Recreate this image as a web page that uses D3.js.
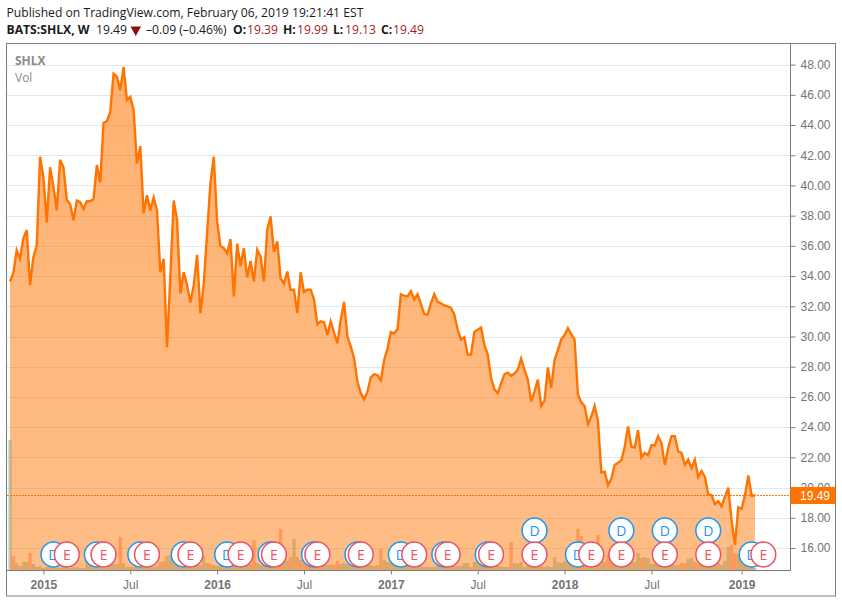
<!DOCTYPE html>
<html>
<head>
<meta charset="utf-8">
<script src="https://cdnjs.cloudflare.com/ajax/libs/d3/7.8.5/d3.min.js"></script>
<style>
  html, body { margin: 0; background: #fff; }
  svg { display: block; }
  .head { font-family: "Open Sans", sans-serif; font-size: 12.17px; fill: #1a1a1a; }
  .axis text { font-family: "Liberation Sans", Arial, sans-serif; fill: #747474; }
</style>
</head>
<body>
<div id="chart"></div>
<script>
// weekly closes, week 0 = 27 Oct 2014
const closes = [
  33.65, 34.2, 35.7, 35.15, 36.5, 37.05, 33.4, 35.25, 36.0, 41.9,
  40.55, 37.55, 41.2, 39.9, 38.35, 41.7, 41.2, 39.05, 38.75, 37.7,
  39.0, 38.9, 38.45, 38.95, 38.95, 39.1, 41.35, 40.2, 44.15, 44.25,
  44.85, 47.4, 47.2, 46.3, 47.85, 45.65, 45.85, 45.0, 41.45, 42.6,
  38.15, 39.35, 38.35, 39.2, 38.35, 34.25, 35.15, 29.3, 34.0, 39.0,
  37.7, 32.85, 34.25, 33.4, 32.25, 33.4, 35.4, 31.55, 33.5, 36.85,
  40.15, 41.9, 37.6, 36.0, 35.85, 35.5, 36.45, 32.65, 36.15, 34.65,
  35.85, 33.9, 35.0, 33.65, 35.75, 35.3, 33.65, 37.05, 37.95, 35.6,
  36.3, 33.85, 33.5, 34.3, 33.1, 33.1, 31.55, 34.25, 32.95, 33.1,
  33.1, 32.45, 30.8, 31.0, 30.95, 30.1, 31.0, 30.25, 29.55, 31.1,
  32.3, 30.0, 29.35, 28.55, 27.0, 26.25, 25.85, 26.35, 27.3, 27.5,
  27.45, 27.1, 28.45, 29.2, 30.3, 30.2, 30.5, 32.8, 32.7, 32.65,
  33.0, 32.45, 32.8, 32.15, 31.5, 31.45, 32.2, 32.8, 32.3, 32.2,
  32.05, 32.0, 31.9, 31.45, 30.45, 29.8, 29.95, 28.8, 28.8, 30.3,
  30.45, 30.6, 29.45, 28.8, 27.25, 26.5, 26.25, 26.9, 27.5, 27.6,
  27.4, 27.55, 27.8, 28.55, 27.8, 27.15, 25.7, 26.35, 27.15, 25.4,
  25.75, 27.95, 26.6, 28.45, 29.1, 29.8, 30.1, 30.55, 30.15, 29.8,
  26.15, 25.65, 25.4, 24.2, 24.7, 25.4, 24.4, 21.0, 21.05, 20.15,
  20.6, 21.5, 21.65, 21.8, 22.7, 24.05, 22.7, 22.65, 23.8, 22.0,
  22.3, 22.15, 22.8, 22.8, 23.4, 22.95, 21.5, 22.6, 23.4, 23.4,
  22.4, 22.3, 21.5, 21.85, 21.3, 21.85, 20.7, 21.1, 20.7, 19.55,
  19.5, 18.9, 19.1, 18.75, 19.4, 20.0, 17.8, 16.2, 18.7, 18.6,
  19.5, 20.8, 19.45, 19.49
];

// relative volume, the first week is the tallest bar
const volumes = [
  130, 14, 7, 4, 8, 8, 17, 6, 3, 4,
  2, 3, 3, 4, 3, 2, 3, 3, 2, 3,
  3, 2, 2, 10, 6, 5, 6, 6, 5, 5,
  5, 6, 6, 33, 7, 3, 3, 3, 4, 3,
  4, 3, 3, 3, 4, 8, 9, 14, 15, 10,
  10, 9, 10, 8, 8, 6, 6, 5, 14, 7,
  6, 5, 4, 5, 6, 5, 6, 8, 8, 6,
  6, 5, 6, 30, 7, 5, 6, 5, 7, 6,
  8, 41, 10, 9, 13, 31, 13, 10, 7, 8,
  6, 6, 5, 6, 5, 5, 5, 5, 9, 6,
  7, 6, 5, 5, 4, 5, 6, 5, 5, 4,
  5, 21, 10, 8, 7, 6, 5, 5, 4, 5,
  4, 4, 3, 4, 3, 3, 3, 3, 4, 4,
  4, 3, 3, 4, 4, 4, 7, 7, 3, 8,
  8, 5, 6, 5, 4, 5, 4, 4, 3, 3,
  28, 7, 7, 8, 3, 4, 4, 4, 3, 4,
  3, 4, 3, 13, 8, 7, 9, 12, 15, 10,
  41, 34, 11, 9, 8, 6, 35, 9, 8, 15,
  8, 7, 10, 11, 10, 10, 9, 8, 17, 12,
  13, 12, 6, 6, 5, 6, 6, 5, 6, 5,
  5, 7, 7, 11, 12, 8, 6, 5, 6, 5,
  5, 6, 7, 5, 9, 23, 25, 17, 16, 10,
  5, 4, 3, 2
];
const volumeDownWeeks = [1, 3, 6, 10, 13, 21, 22, 33, 36, 46, 60, 73, 81, 84, 86, 88, 89, 97, 98, 111, 138, 150, 170, 171, 172, 176, 179, 189, 201, 202, 205, 216, 217];

const priceTicks = [16, 18, 20, 22, 24, 26, 28, 30, 32, 34, 36, 38, 40, 42, 44, 46, 48];
const timeTickWeeks = [10, 36, 62, 88, 114, 140, 166, 192, 219];
const timeTickLabels = ["2015", "Jul", "2016", "Jul", "2017", "Jul", "2018", "Jul", "2019"];

const earningsWeeks = [17, 28, 41, 54, 69, 79, 92, 105, 121, 131, 144, 157, 174, 183, 196, 209, 225.5];
const dividendWeeks = [13, 26, 39, 52, 65, 78, 91, 104, 117, 130, 143, 157, 170, 183, 196, 209, 222];

const lastClose = 19.49;

const orange = "#ff7400";
const axisGrey = "#7b7b7b";
const darkRed = "#a51c1c";

const width = 842, height = 603;
const plot = { left: 7, right: 790, top: 43.5, bottom: 570.5 };

const svg = d3.select("#chart").append("svg")
    .attr("width", width)
    .attr("height", height);

const x = d3.scaleLinear().domain([0, closes.length - 1]).range([10, 755]);
const y = d3.scaleLinear().domain([16, 48]).range([548, 64.6]);
const yVol = d3.scaleLinear().domain([0, 130]).range([570, 440]);

const grad = svg.append("defs").append("linearGradient")
    .attr("id", "areaFill")
    .attr("x1", 0).attr("x2", 0).attr("y1", 0).attr("y2", 1);
grad.append("stop").attr("offset", "0%").attr("stop-color", orange).attr("stop-opacity", 0.56);
grad.append("stop").attr("offset", "100%").attr("stop-color", orange).attr("stop-opacity", 0.47);

// grid
svg.append("g").selectAll("line").data(priceTicks).join("line")
    .attr("x1", plot.left).attr("x2", plot.right)
    .attr("y1", d => Math.round(y(d)) + 0.5).attr("y2", d => Math.round(y(d)) + 0.5)
    .attr("stroke", "#dfe8ef");

// volume
svg.append("g").selectAll("rect").data(volumes).join("rect")
    .attr("x", (d, i) => x(i) - 1.67)
    .attr("width", 3.34)
    .attr("y", d => yVol(d))
    .attr("height", d => yVol(0) - yVol(d))
    .attr("fill", (d, i) => volumeDownWeeks.includes(i) ? "rgba(255,90,50,0.42)" : "rgba(80,160,130,0.42)");

// price
const area = d3.area().x((d, i) => x(i)).y0(plot.bottom).y1(d => y(d));
const line = d3.line().x((d, i) => x(i)).y(d => y(d));

svg.append("path").datum(closes)
    .attr("d", area)
    .attr("fill", "url(#areaFill)");
svg.append("path").datum(closes)
    .attr("d", line)
    .attr("fill", "none")
    .attr("stroke", orange)
    .attr("stroke-width", 2.4)
    .attr("stroke-linejoin", "miter");

// last price line
svg.append("line")
    .attr("x1", plot.left).attr("x2", plot.right)
    .attr("y1", Math.round(y(lastClose)) + 0.5).attr("y2", Math.round(y(lastClose)) + 0.5)
    .attr("stroke", orange)
    .attr("stroke-dasharray", "2 1");

// earnings and dividend markers
function addMarkers(weeks, letter, color, cy) {
    const g = svg.append("g").selectAll("g").data(weeks).join("g")
        .attr("transform", d => `translate(${x(d)},${cy(d)})`);
    g.append("circle")
        .attr("r", 12.4)
        .attr("fill", "#fff")
        .attr("stroke", color)
        .attr("stroke-width", 1.5);
    g.append("text")
        .attr("text-anchor", "middle")
        .attr("y", 5)
        .attr("font-family", "'Open Sans', sans-serif")
        .attr("font-size", 14)
        .attr("fill", color)
        .text(letter);
}
addMarkers(dividendWeeks, "D", "#1e96f0", d => earningsWeeks.includes(d) ? 530.5 : 554.5);
addMarkers(earningsWeeks, "E", "#ec5063", () => 554.5);

// axes
const yAxis = svg.append("g").attr("class", "axis")
    .attr("transform", `translate(${plot.right + 0.5},0)`)
    .call(d3.axisRight(y).tickValues(priceTicks).tickFormat(d3.format(".2f")).tickSize(5).tickPadding(5));
yAxis.select(".domain").remove();
yAxis.selectAll(".tick line").attr("stroke", axisGrey);
yAxis.selectAll("text").attr("font-size", 12);

const xAxis = svg.append("g").attr("class", "axis")
    .attr("transform", `translate(0,${plot.bottom})`)
    .call(d3.axisBottom(x).tickValues(timeTickWeeks).tickFormat((d, i) => timeTickLabels[i]).tickSize(4).tickPadding(6));
xAxis.select(".domain").remove();
xAxis.selectAll(".tick line").attr("stroke", axisGrey);
xAxis.selectAll("text")
    .attr("font-size", 12)
    .attr("font-weight", (d, i) => timeTickLabels[i] === "Jul" ? "normal" : "bold");

// frame
svg.append("rect")
    .attr("x", 6.5).attr("y", 43.5)
    .attr("width", 829).attr("height", 552.5)
    .attr("fill", "none")
    .attr("stroke", axisGrey);
svg.append("line")
    .attr("x1", plot.right + 0.5).attr("x2", plot.right + 0.5)
    .attr("y1", 43.5).attr("y2", plot.bottom)
    .attr("stroke", axisGrey);
svg.append("line")
    .attr("x1", 6.5).attr("x2", plot.right + 0.5)
    .attr("y1", plot.bottom).attr("y2", plot.bottom)
    .attr("stroke", axisGrey);

// last price label
svg.append("rect")
    .attr("x", plot.right + 0.5).attr("y", 487)
    .attr("width", 45).attr("height", 17)
    .attr("fill", orange);
svg.append("text")
    .attr("x", 800).attr("y", 499.5)
    .attr("font-family", "'Liberation Sans', Arial, sans-serif")
    .attr("font-size", 12)
    .attr("fill", "#fff")
    .text(lastClose.toFixed(2));

// legend in the plot
svg.append("text")
    .attr("x", 15).attr("y", 65)
    .attr("font-family", "'Open Sans', sans-serif")
    .attr("font-size", 12)
    .attr("font-weight", "bold")
    .attr("fill", "#8a8a8a")
    .text("SHLX");
svg.append("text")
    .attr("x", 15).attr("y", 82)
    .attr("font-family", "'Open Sans', sans-serif")
    .attr("font-size", 12)
    .attr("fill", "#8a8a8a")
    .text("Vol");

// header
svg.append("text").attr("class", "head")
    .attr("x", 6.5).attr("y", 17)
    .text("Published on TradingView.com, February 06, 2019 19:21:41 EST");

const headerParts = [
    { text: "BATS:SHLX, W", at: 6.5, bold: true },
    { text: "19.49", at: 96 },
    { text: "–0.09 (–0.46%)", at: 146 },
    { text: "O:", at: 233, bold: true },
    { text: "19.39", at: 247, red: true },
    { text: "H:", at: 283, bold: true },
    { text: "19.99", at: 297, red: true },
    { text: "L:", at: 333, bold: true },
    { text: "19.13", at: 345, red: true },
    { text: "C:", at: 381, bold: true },
    { text: "19.49", at: 393, red: true }
];
svg.append("g").selectAll("text").data(headerParts).join("text")
    .attr("class", "head")
    .attr("x", d => d.at).attr("y", 34)
    .attr("font-weight", d => d.bold ? "bold" : "normal")
    .style("fill", d => d.red ? darkRed : null)
    .text(d => d.text);

svg.append("path")
    .attr("d", "M130.5,26.5 L141,26.5 L135.75,36 Z")
    .attr("fill", "#8b0f0f");
</script>
</body>
</html>
